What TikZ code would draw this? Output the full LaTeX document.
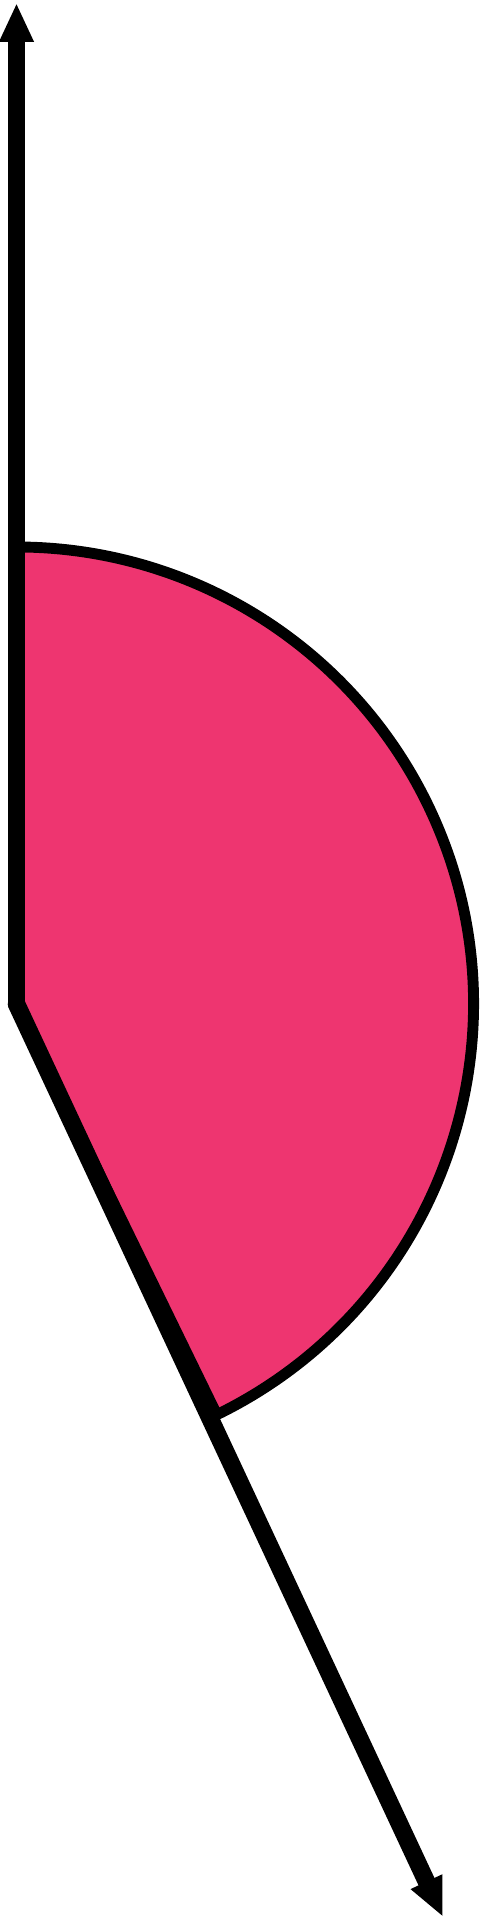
\documentclass[tikz,border=0pt]{standalone}
\usepackage{tikz}
\usepackage{tkz-euclide}
\usetikzlibrary{arrows.meta}
\definecolor{sectorpink}{RGB}{238,53,112}

\begin{document}
\begin{tikzpicture}[axisarrow/.style={line width=5pt,-{Triangle[length=11.1pt,width=9.1pt]}}]
    \useasboundingbox (0,0) rectangle (4.8,19.2);
    \tkzDefPoint(0.165,9.16){O}
    \tkzDefPoint(0.165,19.17){Y}
    \tkzDefPoint(4.43,0.03){Z}
    \tkzDefShiftPoint[O](90:4.57){A}
    \tkzDefShiftPoint[O](-64:4.57){B}
    \tkzDrawSector[fill=sectorpink,line width=3.1pt](O,B)(A)
    \tkzDrawSegments[axisarrow](O,Y O,Z)
  \end{tikzpicture}
\end{document}
